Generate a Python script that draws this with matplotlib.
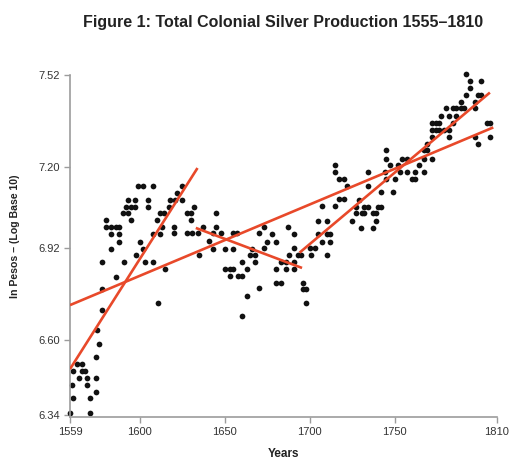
import matplotlib.pyplot as plt

# ── Data ─────────────────────────────
years = [
    # 1559-1615
    1599, 1602, 1608, 1593, 1597, 1605, 1592, 1595, 1597, 1605,
    1590, 1593, 1612, 1614, 1580, 1595, 1610, 1580, 1583, 1586,
    1588, 1613, 1583, 1588, 1608, 1612, 1588, 1600, 1583, 1602,
    1598, 1578, 1591, 1603, 1608, 1615, 1586, 1578, 1611, 1578,
    1575, 1576, 1574, 1563, 1566, 1561, 1566, 1568, 1564, 1569,
    1574, 1560, 1569, 1574, 1561, 1571, 1559, 1571,
    # 1617-1670
    1625, 1622, 1618, 1621, 1625, 1617, 1632, 1628, 1630, 1645,
    1630, 1620, 1637, 1645, 1620, 1628, 1631, 1634, 1643, 1648,
    1655, 1657, 1670, 1641, 1643, 1650, 1655, 1666, 1635, 1665,
    1668, 1660, 1650, 1653, 1655, 1663, 1653, 1658, 1660, 1670,
    1663, 1660,
    # 1668-1725
    1715, 1715, 1717, 1720, 1722, 1717, 1720, 1715, 1707, 1705,
    1710, 1725, 1673, 1687, 1678, 1691, 1705, 1710, 1712, 1675,
    1680, 1707, 1712, 1673, 1691, 1700, 1703, 1688, 1693, 1695,
    1701, 1710, 1668, 1683, 1686, 1691, 1680, 1686, 1691, 1680,
    1683, 1696, 1696, 1698, 1698,
    # 1727-1806
    1792, 1794, 1801, 1794, 1792, 1799, 1801, 1789, 1797, 1780,
    1784, 1786, 1789, 1791, 1797, 1777, 1782, 1786, 1772, 1774,
    1776, 1784, 1804, 1806, 1772, 1774, 1776, 1779, 1782, 1772,
    1782, 1797, 1806, 1769, 1799, 1745, 1767, 1769, 1745, 1754,
    1757, 1767, 1772, 1747, 1752, 1764, 1734, 1744, 1753, 1757,
    1762, 1767, 1745, 1750, 1760, 1762, 1734, 1742, 1749, 1729,
    1727, 1732, 1734, 1740, 1742, 1727, 1731, 1732, 1737, 1739,
    1739, 1730, 1737,
]
log_pesos = [
    # 1559-1615
    7.136, 7.136, 7.136, 7.086, 7.086, 7.086, 7.063, 7.063, 7.063, 7.063,
    7.040, 7.040, 7.040, 7.040, 7.017, 7.017, 7.017, 6.991, 6.991, 6.991,
    6.991, 6.991, 6.968, 6.968, 6.968, 6.968, 6.941, 6.941, 6.917, 6.917,
    6.895, 6.872, 6.872, 6.872, 6.872, 6.846, 6.820, 6.777, 6.729, 6.704,
    6.633, 6.587, 6.540, 6.515, 6.515, 6.492, 6.492, 6.492, 6.467, 6.467,
    6.467, 6.445, 6.445, 6.420, 6.397, 6.397, 6.348, 6.348,
    # 1617-1670
    7.136, 7.111, 7.086, 7.086, 7.086, 7.063, 7.063, 7.040, 7.040, 7.040,
    7.015, 6.991, 6.991, 6.991, 6.970, 6.970, 6.970, 6.970, 6.970, 6.970,
    6.970, 6.970, 6.970, 6.944, 6.917, 6.917, 6.917, 6.917, 6.895, 6.895,
    6.895, 6.872, 6.848, 6.848, 6.848, 6.848, 6.822, 6.822, 6.822, 6.779,
    6.753, 6.683,
    # 1668-1725
    7.208, 7.184, 7.159, 7.159, 7.135, 7.088, 7.088, 7.065, 7.065, 7.014,
    7.014, 7.014, 6.991, 6.991, 6.968, 6.968, 6.968, 6.968, 6.968, 6.941,
    6.941, 6.941, 6.941, 6.918, 6.918, 6.918, 6.918, 6.895, 6.895, 6.895,
    6.895, 6.895, 6.872, 6.872, 6.872, 6.872, 6.845, 6.845, 6.845, 6.797,
    6.797, 6.797, 6.776, 6.776, 6.729,
    # 1727-1806
    7.523, 7.499, 7.499, 7.474, 7.451, 7.451, 7.451, 7.425, 7.425, 7.404,
    7.404, 7.404, 7.404, 7.404, 7.404, 7.379, 7.379, 7.379, 7.354, 7.354,
    7.354, 7.354, 7.354, 7.354, 7.329, 7.329, 7.329, 7.329, 7.329, 7.304,
    7.304, 7.304, 7.304, 7.279, 7.279, 7.258, 7.258, 7.258, 7.229, 7.229,
    7.229, 7.229, 7.229, 7.208, 7.208, 7.208, 7.184, 7.184, 7.184, 7.184,
    7.184, 7.184, 7.159, 7.159, 7.159, 7.159, 7.136, 7.113, 7.113, 7.086,
    7.063, 7.063, 7.063, 7.063, 7.063, 7.040, 7.040, 7.040, 7.040, 7.040,
    7.013, 6.990, 6.990,
]

# trend segments (start, end)
trend_years = [(1559, 1808), (1559, 1634), (1633, 1695.5), (1694, 1806)]
trend_vals  = [(6.721, 7.338), (6.499, 7.197), (6.989, 6.850), (6.903, 7.459)]

x_ticks = [1559, 1600, 1650, 1700, 1750, 1810]
y_ticks = [6.34, 6.60, 6.92, 7.20, 7.52]

# ── Style ───────
C_LINE  = "#E8492A"
C_AXIS  = "#9c9c9c"
C_TEXT  = "#222222"
plt.rcParams["font.family"] = ["Liberation Sans", "DejaVu Sans"]

fig = plt.figure(figsize=(5.21, 4.68), dpi=100)
ax = fig.add_axes([70 / 521, 51 / 468, 426.7 / 521, 342 / 468])

ax.scatter(years, log_pesos, s=17, color="#111111", linewidths=0,
           zorder=2, clip_on=False)
for (x0, x1), (y0, y1) in zip(trend_years, trend_vals):
    ax.plot([x0, x1], [y0, y1], color=C_LINE, linewidth=1.9,
            solid_capstyle="butt", zorder=3)

ax.set_xlim(1559, 1810)
ax.set_ylim(6.3325, 7.52)
ax.set_xticks(x_ticks)
ax.set_yticks(y_ticks)
ax.set_yticklabels([f"{v:.2f}" for v in y_ticks])

ax.spines[["top", "right"]].set_visible(False)
for s in ("left", "bottom"):
    ax.spines[s].set_color(C_AXIS)
    ax.spines[s].set_linewidth(1.2)
ax.tick_params(length=4, width=1, color=C_AXIS, labelsize=8,
               labelcolor="#333333", pad=3)

ax.set_ylabel("In Pesos – (Log Base 10)", fontsize=7.6, fontweight="bold",
              color=C_TEXT)
ax.yaxis.set_label_coords(-0.118, 0.529)
ax.set_xlabel("Years", fontsize=8.5, fontweight="bold", color=C_TEXT)
ax.xaxis.set_label_coords(0.5, -0.09)

fig.text(283.5 / 521, 1 - 22 / 468,
         "Figure 1: Total Colonial Silver Production 1555–1810",
         ha="center", va="center", fontsize=11.5, fontweight="bold",
         color=C_TEXT)

plt.savefig("out.png", dpi=100, facecolor="white")
